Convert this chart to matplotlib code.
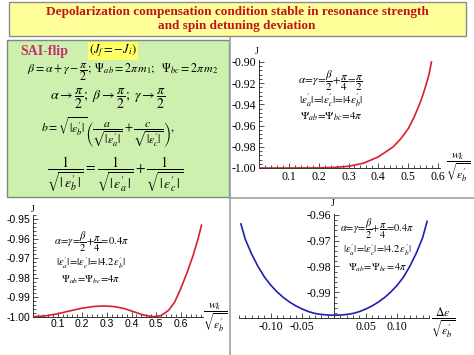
import matplotlib
matplotlib.use('Agg')
import matplotlib.pyplot as plt
from matplotlib.patches import Rectangle
from matplotlib.lines import Line2D
from matplotlib.ticker import FixedLocator, AutoMinorLocator, FormatStrFormatter

# --- data ---
# top right: alpha = gamma = pi/2, |e'a| = |e'c| = |4 e'b|
tr_x = [0.0, 0.10, 0.20, 0.25, 0.30, 0.35, 0.40, 0.45, 0.475, 0.50, 0.52, 0.54, 0.55,
        0.56, 0.57, 0.578]
tr_j = [-1.0, -1.0, -0.9999, -0.9995, -0.9984, -0.9955, -0.9895, -0.9800, -0.9725,
        -0.9630, -0.9520, -0.9385, -0.9305, -0.9215, -0.9115, -0.9000]

# bottom left: alpha = gamma = 0.4 pi, |e'a| = |e'c| = |4.2 e'b|
bl_x = [0.0, 0.05, 0.10, 0.15, 0.20, 0.25, 0.29, 0.33, 0.37, 0.41, 0.45, 0.49,
        0.52, 0.55, 0.575, 0.60, 0.625, 0.65, 0.67, 0.684]
bl_j = [-1.0, -0.9996, -0.9985, -0.9970, -0.9956, -0.9947, -0.9945, -0.9948, -0.9958,
        -0.9975, -0.9992, -1.0, -0.9994, -0.9968, -0.9925, -0.9855, -0.9775, -0.9685,
        -0.9600, -0.9530]

# bottom right: J against detuning deviation
br_x = [-0.147, -0.14, -0.13, -0.12, -0.11, -0.10, -0.09, -0.08, -0.07, -0.06, -0.05,
        -0.04, -0.03, -0.02, -0.01, 0.0, 0.01, 0.02, 0.03, 0.04, 0.05, 0.06, 0.07,
        0.08, 0.09, 0.10, 0.11, 0.12, 0.13, 0.14, 0.147]
br_j = [-0.9635, -0.9695, -0.9752, -0.9800, -0.9840, -0.9872, -0.9898, -0.9920, -0.9938,
        -0.9953, -0.9965, -0.9975, -0.9982, -0.9986, -0.9988, -0.9989, -0.9988, -0.9986,
        -0.9982, -0.9975, -0.9965, -0.9953, -0.9938, -0.9920, -0.9898, -0.9872, -0.9840,
        -0.9798, -0.9748, -0.9688, -0.9625]

W, H = 474, 355


def fx(px):
    return px / W


def fy(py):
    return 1 - py / H


plt.rcParams['font.family'] = ['Liberation Serif', 'DejaVu Serif']
plt.rcParams['mathtext.fontset'] = 'stix'

fig = plt.figure(figsize=(4.74, 3.55), dpi=100)

# title box
fig.add_artist(Rectangle((fx(9), fy(36)), 457 / W, 34 / H, transform=fig.transFigure,
                         facecolor='#ffff99', edgecolor='#8c8c8c', lw=1.0))
fig.text(fx(237), fy(19), "Depolarization compensation condition stable in resonance strength\n"
         "and spin detuning deviation", ha='center', va='center', fontsize=9.5,
         fontweight='bold', color='#c0141c', linespacing=1.15)

# green formula box
fig.add_artist(Rectangle((fx(7), fy(197)), 222 / W, 157 / H, transform=fig.transFigure,
                         facecolor='#cdf0ae', edgecolor='#7f8a7f', lw=1.0))

# dividers
fig.add_artist(Line2D([fx(230), fx(230)], [fy(38), fy(355)], transform=fig.transFigure,
                      color='#a0a0a0', lw=1.2))
fig.add_artist(Line2D([fx(230), fx(474)], [fy(198), fy(198)], transform=fig.transFigure,
                      color='#a0a0a0', lw=1.2))

fig.text(fx(20), fy(51), "SAI-flip", ha='left', va='center', fontsize=10,
         fontweight='bold', color='#c2336b')
fig.text(fx(113), fy(51), r'$\left(J_f=-J_i\right)$', ha='center', va='center', fontsize=9,
         bbox=dict(facecolor='#ffff66', edgecolor='none', pad=0.8))
fig.text(fx(123), fy(72), r'$\beta=\alpha+\gamma-\dfrac{\pi}{2};\ \Psi_{ab}=2\pi\,m_1;\ \ \Psi_{bc}=2\pi\,m_2$',
         ha='center', va='center', fontsize=8.6)
fig.text(fx(108), fy(99), r'$\alpha\to\dfrac{\pi}{2};\ \beta\to\dfrac{\pi}{2};\ \gamma\to\dfrac{\pi}{2}$',
         ha='center', va='center', fontsize=10)
fig.text(fx(108), fy(133), r'$b=\sqrt{|\varepsilon^{\prime}_b|}\left(\dfrac{a}{\sqrt{|\varepsilon^{\prime}_a|}}'
         r'+\dfrac{c}{\sqrt{|\varepsilon^{\prime}_c|}}\right),$', ha='center', va='center', fontsize=8.5)
fig.text(fx(115), fy(175), r'$\dfrac{1}{\sqrt{|\,\varepsilon^{\prime}_b\,|}}=\dfrac{1}{\sqrt{|\,\varepsilon^{\prime}_a\,|}}'
         r'+\dfrac{1}{\sqrt{|\,\varepsilon^{\prime}_c\,|}}$', ha='center', va='center', fontsize=10)


def style(ax, family):
    for s in ['top', 'right']:
        ax.spines[s].set_visible(False)
    for s in ['left', 'bottom']:
        ax.spines[s].set_linewidth(0.7)
        ax.spines[s].set_color('#333333')
    ax.patch.set_alpha(0)
    ax.tick_params(which='both', direction='in', width=0.6, color='#333333', pad=2)
    ax.tick_params(which='major', length=3.5)
    ax.tick_params(which='minor', length=2)
    ax.xaxis.set_minor_locator(AutoMinorLocator(5))
    ax.yaxis.set_minor_locator(AutoMinorLocator(5))
    for lab in ax.get_xticklabels() + ax.get_yticklabels():
        lab.set_family(family)


red = '#d8202a'
blue = '#1f1fb0'

ann_tr = [r'$\alpha\!=\!\gamma\!=\!\dfrac{\beta}{2}\!+\!\dfrac{\pi}{4}\!=\!\dfrac{\pi}{2}$',
          r'$|\varepsilon^{\prime}_a|\!=\!|\varepsilon^{\prime}_c|\!=\!|4\varepsilon^{\prime}_b|$',
          r'$\Psi_{ab}\!=\!\Psi_{bc}\!=\!4\pi$']
ann_b = [r'$\alpha\!=\!\gamma\!=\!\dfrac{\beta}{2}\!+\!\dfrac{\pi}{4}\!=\!0.4\pi$',
         r'$|\varepsilon^{\prime}_a|\!=\!|\varepsilon^{\prime}_c|\!=\!|4.2\,\varepsilon^{\prime}_b|$',
         r'$\Psi_{ab}\!=\!\Psi_{bc}\!=\!4\pi$']
wk_label = r'$\dfrac{w_k}{\sqrt{\varepsilon^{\prime}_b}}$'
de_label = r'$\dfrac{\Delta\varepsilon}{\sqrt{\varepsilon^{\prime}_b}}$'

# --- top right ---
ax1 = fig.add_axes([fx(259), fy(168), 180.5 / W, 107.6 / H])
ax1.plot(tr_x, tr_j, color=red, lw=1.2, zorder=3)
ax1.set_xlim(0, 0.605)
ax1.set_ylim(-1.0, -0.8985)
ax1.xaxis.set_major_locator(FixedLocator([0.1, 0.2, 0.3, 0.4, 0.5, 0.6]))
ax1.yaxis.set_major_locator(FixedLocator([-1.0, -0.98, -0.96, -0.94, -0.92, -0.90]))
ax1.xaxis.set_major_formatter(FormatStrFormatter('%.1f'))
ax1.yaxis.set_major_formatter(FormatStrFormatter('%.2f'))
ax1.tick_params(labelsize=8.5)
style(ax1, 'Liberation Serif')
fig.text(fx(257), fy(51), 'J', ha='center', va='center', fontsize=7)
fig.text(fx(458), fy(168), wk_label, ha='center', va='center', fontsize=8.5)
for txt, py in zip(ann_tr, [81, 101, 117]):
    fig.text(fx(331), fy(py), txt, ha='center', va='center', fontsize=8)

# --- bottom left ---
ax2 = fig.add_axes([fx(33), fy(316.7), 170 / W, 101.3 / H])
ax2.plot(bl_x, bl_j, color=red, lw=1.2, zorder=3)
ax2.set_xlim(0, 0.69)
ax2.set_ylim(-1.0, -0.948)
ax2.xaxis.set_major_locator(FixedLocator([0.1, 0.2, 0.3, 0.4, 0.5, 0.6]))
ax2.yaxis.set_major_locator(FixedLocator([-1.0, -0.99, -0.98, -0.97, -0.96, -0.95]))
ax2.xaxis.set_major_formatter(FormatStrFormatter('%.1f'))
ax2.yaxis.set_major_formatter(FormatStrFormatter('%.2f'))
ax2.tick_params(labelsize=7.5)
style(ax2, 'Liberation Sans')
fig.text(fx(33), fy(210), 'J', ha='center', va='center', fontsize=7)
fig.text(fx(215), fy(318), wk_label, ha='center', va='center', fontsize=8.5)
for txt, py in zip(ann_b, [242, 263, 280]):
    fig.text(fx(91), fy(py), txt, ha='center', va='center', fontsize=7.6)

# --- bottom right ---
ax3 = fig.add_axes([fx(239), fy(318.1), 190 / W, 104.5 / H])
ax3.plot(br_x, br_j, color=blue, lw=1.2, zorder=3)
ax3.set_xlim(-0.15, 0.15)
ax3.set_ylim(-1.0, -0.9595)
ax3.spines['left'].set_position(('data', 0))
ax3.xaxis.set_major_locator(FixedLocator([-0.10, -0.05, 0.05, 0.10]))
ax3.yaxis.set_major_locator(FixedLocator([-0.99, -0.98, -0.97, -0.96]))
ax3.xaxis.set_major_formatter(FormatStrFormatter('%.2f'))
ax3.yaxis.set_major_formatter(FormatStrFormatter('%.2f'))
ax3.tick_params(labelsize=8.5)
style(ax3, 'Liberation Serif')
fig.text(fx(333), fy(204), 'J', ha='center', va='center', fontsize=7)
fig.text(fx(443), fy(323), de_label, ha='center', va='center', fontsize=8.5)
for txt, py in zip(ann_b, [229, 250, 268]):
    fig.text(fx(377), fy(py), txt, ha='center', va='center', fontsize=7.5)

fig.savefig('out.png', dpi=100)
